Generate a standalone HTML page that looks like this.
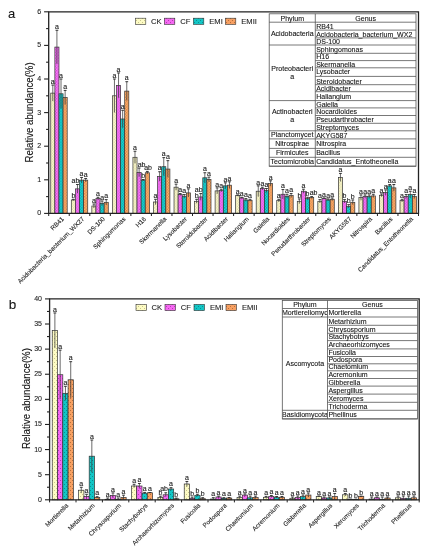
<!DOCTYPE html>
<html><head><meta charset="utf-8"><title>Relative abundance</title>
<style>
html,body{margin:0;padding:0;background:#fff;}
svg{display:block;}
text{font-family:'Liberation Sans', Arial, sans-serif;fill:#222;stroke:#222;stroke-width:0.1px;}
.sl{font-size:7px;text-anchor:middle;fill:#111;}
.yt{font-size:7px;text-anchor:end;fill:#222;}
.xl{font-size:6.4px;text-anchor:end;fill:#222;}
.lg{font-size:7.6px;fill:#1a1a1a;}
.tc{font-size:7.05px;text-anchor:middle;fill:#111;}
.tg{font-size:7px;fill:#111;}
.pl{font-size:13px;fill:#111;}
.yl{font-size:10px;text-anchor:middle;fill:#111;}
</style></head><body>
<svg width="424" height="550" viewBox="0 0 424 550">
<defs>
<pattern id="aCK" width="2.8" height="2.8" patternUnits="userSpaceOnUse"><rect width="2.8" height="2.8" fill="#fffdd6"/><rect width="1.4" height="1.4" fill="#dedaa6"/><rect x="1.4" y="1.4" width="1.4" height="1.4" fill="#dedaa6"/></pattern>
<pattern id="aCF" width="2.8" height="2.8" patternUnits="userSpaceOnUse"><rect width="2.8" height="2.8" fill="#ff7cff"/><rect width="1.4" height="1.4" fill="#d452d4"/><rect x="1.4" y="1.4" width="1.4" height="1.4" fill="#d452d4"/></pattern>
<pattern id="aEMI" width="2.8" height="2.8" patternUnits="userSpaceOnUse"><rect width="2.8" height="2.8" fill="#22dada"/><rect width="1.4" height="1.4" fill="#04a6a6"/><rect x="1.4" y="1.4" width="1.4" height="1.4" fill="#04a6a6"/></pattern>
<pattern id="aEMII" width="2.8" height="2.8" patternUnits="userSpaceOnUse"><rect width="2.8" height="2.8" fill="#ffb474"/><rect width="1.4" height="1.4" fill="#dc8646"/><rect x="1.4" y="1.4" width="1.4" height="1.4" fill="#dc8646"/></pattern>
<pattern id="pCK" width="4" height="4" patternUnits="userSpaceOnUse"><rect width="4" height="4" fill="#fdfbc4"/><rect x="0" y="0" width="1" height="1" fill="#c8c48e"/><rect x="2" y="2" width="1" height="1" fill="#c8c48e"/></pattern>
<pattern id="pCF" width="4" height="4" patternUnits="userSpaceOnUse"><rect width="4" height="4" fill="#f568f2"/><rect x="0" y="0" width="1" height="1" fill="#b53fb3"/><rect x="2" y="2" width="1" height="1" fill="#b53fb3"/></pattern>
<pattern id="pEMI" width="4" height="4" patternUnits="userSpaceOnUse"><rect width="4" height="4" fill="#12c6c6"/><rect x="0" y="0" width="1" height="1" fill="#0a8f8f"/><rect x="2" y="2" width="1" height="1" fill="#0a8f8f"/></pattern>
<pattern id="pEMII" width="4" height="4" patternUnits="userSpaceOnUse"><rect width="4" height="4" fill="#f7a062"/><rect x="0" y="0" width="1" height="1" fill="#b8703c"/><rect x="2" y="2" width="1" height="1" fill="#b8703c"/></pattern>
</defs>
<rect width="424" height="550" fill="#fff"/>
<text x="7.95" y="17.6" class="pl">a</text>
<text x="8.7" y="309.4" class="pl" style="font-size:13.5px">b</text>
<text transform="translate(33.0 112.4) rotate(-90)" class="yl" textLength="100" lengthAdjust="spacingAndGlyphs">Relative abundance(%)</text>
<text transform="translate(30.3 398.5) rotate(-90)" class="yl" textLength="101" lengthAdjust="spacingAndGlyphs">Relative abundance(%)</text>
<rect x="50.75" y="93.11" width="4.11" height="120.29" fill="url(#aCK)" stroke="#333" stroke-width="0.7"/>
<rect x="54.86" y="47.08" width="4.11" height="166.32" fill="url(#aCF)" stroke="#333" stroke-width="0.7"/>
<rect x="58.97" y="93.78" width="4.11" height="119.62" fill="url(#aEMI)" stroke="#333" stroke-width="0.7"/>
<rect x="63.08" y="97.48" width="4.11" height="115.92" fill="url(#aEMII)" stroke="#333" stroke-width="0.7"/>
<path d="M52.81 85.05V101.18" stroke="#3a3a3a" stroke-width="0.75" fill="none"/><path d="M51.41 85.05h2.8" stroke="#222" stroke-width="0.9" fill="none"/>
<text x="52.81" y="83.75" class="sl">a</text>
<path d="M56.92 30.28V63.88" stroke="#3a3a3a" stroke-width="0.75" fill="none"/><path d="M55.52 30.28h2.8" stroke="#222" stroke-width="0.9" fill="none"/>
<text x="56.92" y="28.98" class="sl">a</text>
<path d="M61.03 79.00V108.57" stroke="#3a3a3a" stroke-width="0.75" fill="none"/><path d="M59.63 79.00h2.8" stroke="#222" stroke-width="0.9" fill="none"/>
<text x="61.03" y="77.70" class="sl">a</text>
<path d="M65.14 90.42V104.54" stroke="#3a3a3a" stroke-width="0.75" fill="none"/><path d="M63.74 90.42h2.8" stroke="#222" stroke-width="0.9" fill="none"/>
<text x="65.14" y="89.12" class="sl">a</text>
<rect x="71.30" y="199.96" width="4.11" height="13.44" fill="url(#aCK)" stroke="#333" stroke-width="0.7"/>
<rect x="75.41" y="188.87" width="4.11" height="24.53" fill="url(#aCF)" stroke="#333" stroke-width="0.7"/>
<rect x="79.52" y="180.14" width="4.11" height="33.26" fill="url(#aEMI)" stroke="#333" stroke-width="0.7"/>
<rect x="83.63" y="180.14" width="4.11" height="33.26" fill="url(#aEMII)" stroke="#333" stroke-width="0.7"/>
<path d="M73.35 199.29V200.63" stroke="#3a3a3a" stroke-width="0.75" fill="none"/><path d="M71.95 199.29h2.8" stroke="#222" stroke-width="0.9" fill="none"/>
<text x="73.35" y="197.99" class="sl">b</text>
<path d="M77.46 184.50V193.24" stroke="#3a3a3a" stroke-width="0.75" fill="none"/><path d="M76.06 184.50h2.8" stroke="#222" stroke-width="0.9" fill="none"/>
<text x="75.46" y="183.20" class="sl">ab</text>
<path d="M81.57 177.45V182.82" stroke="#3a3a3a" stroke-width="0.75" fill="none"/><path d="M80.17 177.45h2.8" stroke="#222" stroke-width="0.9" fill="none"/>
<text x="81.57" y="176.15" class="sl">a</text>
<path d="M85.68 178.46V181.82" stroke="#3a3a3a" stroke-width="0.75" fill="none"/><path d="M84.28 178.46h2.8" stroke="#222" stroke-width="0.9" fill="none"/>
<text x="85.68" y="177.16" class="sl">a</text>
<rect x="91.84" y="206.01" width="4.11" height="7.39" fill="url(#aCK)" stroke="#333" stroke-width="0.7"/>
<rect x="95.95" y="198.62" width="4.11" height="14.78" fill="url(#aCF)" stroke="#333" stroke-width="0.7"/>
<rect x="100.06" y="203.32" width="4.11" height="10.08" fill="url(#aEMI)" stroke="#333" stroke-width="0.7"/>
<rect x="104.17" y="202.31" width="4.11" height="11.09" fill="url(#aEMII)" stroke="#333" stroke-width="0.7"/>
<path d="M93.90 203.99V208.02" stroke="#3a3a3a" stroke-width="0.75" fill="none"/><path d="M92.50 203.99h2.8" stroke="#222" stroke-width="0.9" fill="none"/>
<text x="93.90" y="202.69" class="sl">a</text>
<path d="M98.01 197.27V199.96" stroke="#3a3a3a" stroke-width="0.75" fill="none"/><path d="M96.61 197.27h2.8" stroke="#222" stroke-width="0.9" fill="none"/>
<text x="98.01" y="195.97" class="sl">a</text>
<path d="M102.12 200.97V205.67" stroke="#3a3a3a" stroke-width="0.75" fill="none"/><path d="M100.72 200.97h2.8" stroke="#222" stroke-width="0.9" fill="none"/>
<text x="102.12" y="199.67" class="sl">a</text>
<path d="M106.22 199.62V205.00" stroke="#3a3a3a" stroke-width="0.75" fill="none"/><path d="M104.82 199.62h2.8" stroke="#222" stroke-width="0.9" fill="none"/>
<text x="106.22" y="198.32" class="sl">a</text>
<rect x="112.39" y="95.80" width="4.11" height="117.60" fill="url(#aCK)" stroke="#333" stroke-width="0.7"/>
<rect x="116.50" y="85.38" width="4.11" height="128.02" fill="url(#aCF)" stroke="#333" stroke-width="0.7"/>
<rect x="120.61" y="118.98" width="4.11" height="94.42" fill="url(#aEMI)" stroke="#333" stroke-width="0.7"/>
<rect x="124.71" y="91.10" width="4.11" height="122.30" fill="url(#aEMII)" stroke="#333" stroke-width="0.7"/>
<path d="M114.44 79.00V112.60" stroke="#3a3a3a" stroke-width="0.75" fill="none"/><path d="M113.04 79.00h2.8" stroke="#222" stroke-width="0.9" fill="none"/>
<text x="114.44" y="77.70" class="sl">a</text>
<path d="M118.55 72.95V97.82" stroke="#3a3a3a" stroke-width="0.75" fill="none"/><path d="M117.15 72.95h2.8" stroke="#222" stroke-width="0.9" fill="none"/>
<text x="118.55" y="71.65" class="sl">a</text>
<path d="M122.66 110.25V127.72" stroke="#3a3a3a" stroke-width="0.75" fill="none"/><path d="M121.26 110.25h2.8" stroke="#222" stroke-width="0.9" fill="none"/>
<text x="122.66" y="108.95" class="sl">a</text>
<path d="M126.77 81.69V100.50" stroke="#3a3a3a" stroke-width="0.75" fill="none"/><path d="M125.37 81.69h2.8" stroke="#222" stroke-width="0.9" fill="none"/>
<text x="126.77" y="80.39" class="sl">a</text>
<rect x="132.93" y="157.29" width="4.11" height="56.11" fill="url(#aCK)" stroke="#333" stroke-width="0.7"/>
<rect x="137.04" y="172.41" width="4.11" height="40.99" fill="url(#aCF)" stroke="#333" stroke-width="0.7"/>
<rect x="141.15" y="180.14" width="4.11" height="33.26" fill="url(#aEMI)" stroke="#333" stroke-width="0.7"/>
<rect x="145.26" y="172.74" width="4.11" height="40.66" fill="url(#aEMII)" stroke="#333" stroke-width="0.7"/>
<path d="M134.99 151.24V163.34" stroke="#3a3a3a" stroke-width="0.75" fill="none"/><path d="M133.59 151.24h2.8" stroke="#222" stroke-width="0.9" fill="none"/>
<text x="134.99" y="149.94" class="sl">a</text>
<path d="M139.10 168.04V176.78" stroke="#3a3a3a" stroke-width="0.75" fill="none"/><path d="M137.70 168.04h2.8" stroke="#222" stroke-width="0.9" fill="none"/>
<text x="141.60" y="166.74" class="sl">ab</text>
<path d="M143.20 179.46V180.81" stroke="#3a3a3a" stroke-width="0.75" fill="none"/><path d="M141.80 179.46h2.8" stroke="#222" stroke-width="0.9" fill="none"/>
<text x="143.20" y="178.16" class="sl">b</text>
<path d="M147.31 171.40V174.09" stroke="#3a3a3a" stroke-width="0.75" fill="none"/><path d="M145.91 171.40h2.8" stroke="#222" stroke-width="0.9" fill="none"/>
<text x="148.11" y="170.10" class="sl">ab</text>
<rect x="153.48" y="201.98" width="4.11" height="11.42" fill="url(#aCK)" stroke="#333" stroke-width="0.7"/>
<rect x="157.59" y="176.44" width="4.11" height="36.96" fill="url(#aCF)" stroke="#333" stroke-width="0.7"/>
<rect x="161.69" y="166.70" width="4.11" height="46.70" fill="url(#aEMI)" stroke="#333" stroke-width="0.7"/>
<rect x="165.80" y="169.05" width="4.11" height="44.35" fill="url(#aEMII)" stroke="#333" stroke-width="0.7"/>
<path d="M155.53 199.29V204.66" stroke="#3a3a3a" stroke-width="0.75" fill="none"/><path d="M154.13 199.29h2.8" stroke="#222" stroke-width="0.9" fill="none"/>
<text x="155.53" y="197.99" class="sl">a</text>
<path d="M159.64 171.74V181.14" stroke="#3a3a3a" stroke-width="0.75" fill="none"/><path d="M158.24 171.74h2.8" stroke="#222" stroke-width="0.9" fill="none"/>
<text x="159.64" y="170.44" class="sl">a</text>
<path d="M163.75 157.62V175.77" stroke="#3a3a3a" stroke-width="0.75" fill="none"/><path d="M162.35 157.62h2.8" stroke="#222" stroke-width="0.9" fill="none"/>
<text x="163.75" y="156.32" class="sl">a</text>
<path d="M167.86 160.65V177.45" stroke="#3a3a3a" stroke-width="0.75" fill="none"/><path d="M166.46 160.65h2.8" stroke="#222" stroke-width="0.9" fill="none"/>
<text x="167.86" y="159.35" class="sl">a</text>
<rect x="174.02" y="187.19" width="4.11" height="26.21" fill="url(#aCK)" stroke="#333" stroke-width="0.7"/>
<rect x="178.13" y="194.58" width="4.11" height="18.82" fill="url(#aCF)" stroke="#333" stroke-width="0.7"/>
<rect x="182.24" y="196.26" width="4.11" height="17.14" fill="url(#aEMI)" stroke="#333" stroke-width="0.7"/>
<rect x="186.35" y="192.90" width="4.11" height="20.50" fill="url(#aEMII)" stroke="#333" stroke-width="0.7"/>
<path d="M176.08 184.17V190.22" stroke="#3a3a3a" stroke-width="0.75" fill="none"/><path d="M174.68 184.17h2.8" stroke="#222" stroke-width="0.9" fill="none"/>
<text x="176.08" y="182.87" class="sl">a</text>
<path d="M180.18 193.58V195.59" stroke="#3a3a3a" stroke-width="0.75" fill="none"/><path d="M178.78 193.58h2.8" stroke="#222" stroke-width="0.9" fill="none"/>
<text x="180.18" y="192.28" class="sl">a</text>
<path d="M184.29 194.58V197.94" stroke="#3a3a3a" stroke-width="0.75" fill="none"/><path d="M182.89 194.58h2.8" stroke="#222" stroke-width="0.9" fill="none"/>
<text x="184.29" y="193.28" class="sl">a</text>
<path d="M188.40 188.87V196.94" stroke="#3a3a3a" stroke-width="0.75" fill="none"/><path d="M187.00 188.87h2.8" stroke="#222" stroke-width="0.9" fill="none"/>
<text x="188.40" y="187.57" class="sl">a</text>
<rect x="194.57" y="201.30" width="4.11" height="12.10" fill="url(#aCK)" stroke="#333" stroke-width="0.7"/>
<rect x="198.67" y="196.94" width="4.11" height="16.46" fill="url(#aCF)" stroke="#333" stroke-width="0.7"/>
<rect x="202.78" y="177.78" width="4.11" height="35.62" fill="url(#aEMI)" stroke="#333" stroke-width="0.7"/>
<rect x="206.89" y="179.46" width="4.11" height="33.94" fill="url(#aEMII)" stroke="#333" stroke-width="0.7"/>
<path d="M196.62 199.29V203.32" stroke="#3a3a3a" stroke-width="0.75" fill="none"/><path d="M195.22 199.29h2.8" stroke="#222" stroke-width="0.9" fill="none"/>
<text x="196.62" y="197.99" class="sl">b</text>
<path d="M200.73 193.58V200.30" stroke="#3a3a3a" stroke-width="0.75" fill="none"/><path d="M199.33 193.58h2.8" stroke="#222" stroke-width="0.9" fill="none"/>
<text x="198.73" y="192.28" class="sl">ab</text>
<path d="M204.84 172.74V182.82" stroke="#3a3a3a" stroke-width="0.75" fill="none"/><path d="M203.44 172.74h2.8" stroke="#222" stroke-width="0.9" fill="none"/>
<text x="204.84" y="171.44" class="sl">a</text>
<path d="M208.95 177.11V181.82" stroke="#3a3a3a" stroke-width="0.75" fill="none"/><path d="M207.55 177.11h2.8" stroke="#222" stroke-width="0.9" fill="none"/>
<text x="208.95" y="175.81" class="sl">a</text>
<rect x="215.11" y="190.89" width="4.11" height="22.51" fill="url(#aCK)" stroke="#333" stroke-width="0.7"/>
<rect x="219.22" y="190.55" width="4.11" height="22.85" fill="url(#aCF)" stroke="#333" stroke-width="0.7"/>
<rect x="223.33" y="185.85" width="4.11" height="27.55" fill="url(#aEMI)" stroke="#333" stroke-width="0.7"/>
<rect x="227.44" y="185.18" width="4.11" height="28.22" fill="url(#aEMII)" stroke="#333" stroke-width="0.7"/>
<path d="M217.16 187.86V193.91" stroke="#3a3a3a" stroke-width="0.75" fill="none"/><path d="M215.76 187.86h2.8" stroke="#222" stroke-width="0.9" fill="none"/>
<text x="217.16" y="186.56" class="sl">a</text>
<path d="M221.27 189.21V191.90" stroke="#3a3a3a" stroke-width="0.75" fill="none"/><path d="M219.87 189.21h2.8" stroke="#222" stroke-width="0.9" fill="none"/>
<text x="221.27" y="187.91" class="sl">a</text>
<path d="M225.38 182.82V188.87" stroke="#3a3a3a" stroke-width="0.75" fill="none"/><path d="M223.98 182.82h2.8" stroke="#222" stroke-width="0.9" fill="none"/>
<text x="225.38" y="181.52" class="sl">a</text>
<path d="M229.49 181.82V188.54" stroke="#3a3a3a" stroke-width="0.75" fill="none"/><path d="M228.09 181.82h2.8" stroke="#222" stroke-width="0.9" fill="none"/>
<text x="229.49" y="180.52" class="sl">a</text>
<rect x="235.65" y="195.59" width="4.11" height="17.81" fill="url(#aCK)" stroke="#333" stroke-width="0.7"/>
<rect x="239.76" y="197.94" width="4.11" height="15.46" fill="url(#aCF)" stroke="#333" stroke-width="0.7"/>
<rect x="243.87" y="199.96" width="4.11" height="13.44" fill="url(#aEMI)" stroke="#333" stroke-width="0.7"/>
<rect x="247.98" y="200.30" width="4.11" height="13.10" fill="url(#aEMII)" stroke="#333" stroke-width="0.7"/>
<path d="M237.71 194.92V196.26" stroke="#3a3a3a" stroke-width="0.75" fill="none"/><path d="M236.31 194.92h2.8" stroke="#222" stroke-width="0.9" fill="none"/>
<text x="237.71" y="193.62" class="sl">a</text>
<path d="M241.82 197.27V198.62" stroke="#3a3a3a" stroke-width="0.75" fill="none"/><path d="M240.42 197.27h2.8" stroke="#222" stroke-width="0.9" fill="none"/>
<text x="241.82" y="195.97" class="sl">a</text>
<path d="M245.93 198.62V201.30" stroke="#3a3a3a" stroke-width="0.75" fill="none"/><path d="M244.53 198.62h2.8" stroke="#222" stroke-width="0.9" fill="none"/>
<text x="245.93" y="197.32" class="sl">a</text>
<path d="M250.04 199.29V201.30" stroke="#3a3a3a" stroke-width="0.75" fill="none"/><path d="M248.64 199.29h2.8" stroke="#222" stroke-width="0.9" fill="none"/>
<text x="250.04" y="197.99" class="sl">a</text>
<rect x="256.20" y="191.22" width="4.11" height="22.18" fill="url(#aCK)" stroke="#333" stroke-width="0.7"/>
<rect x="260.31" y="188.54" width="4.11" height="24.86" fill="url(#aCF)" stroke="#333" stroke-width="0.7"/>
<rect x="264.42" y="190.55" width="4.11" height="22.85" fill="url(#aEMI)" stroke="#333" stroke-width="0.7"/>
<rect x="268.53" y="183.50" width="4.11" height="29.90" fill="url(#aEMII)" stroke="#333" stroke-width="0.7"/>
<path d="M258.25 185.85V196.60" stroke="#3a3a3a" stroke-width="0.75" fill="none"/><path d="M256.85 185.85h2.8" stroke="#222" stroke-width="0.9" fill="none"/>
<text x="258.25" y="184.55" class="sl">a</text>
<path d="M262.36 187.19V189.88" stroke="#3a3a3a" stroke-width="0.75" fill="none"/><path d="M260.96 187.19h2.8" stroke="#222" stroke-width="0.9" fill="none"/>
<text x="262.36" y="185.89" class="sl">a</text>
<path d="M266.47 188.54V192.57" stroke="#3a3a3a" stroke-width="0.75" fill="none"/><path d="M265.07 188.54h2.8" stroke="#222" stroke-width="0.9" fill="none"/>
<text x="266.47" y="187.24" class="sl">a</text>
<path d="M270.58 180.81V186.18" stroke="#3a3a3a" stroke-width="0.75" fill="none"/><path d="M269.18 180.81h2.8" stroke="#222" stroke-width="0.9" fill="none"/>
<text x="270.58" y="179.51" class="sl">a</text>
<rect x="276.74" y="200.63" width="4.11" height="12.77" fill="url(#aCK)" stroke="#333" stroke-width="0.7"/>
<rect x="280.85" y="194.25" width="4.11" height="19.15" fill="url(#aCF)" stroke="#333" stroke-width="0.7"/>
<rect x="284.96" y="196.26" width="4.11" height="17.14" fill="url(#aEMI)" stroke="#333" stroke-width="0.7"/>
<rect x="289.07" y="195.59" width="4.11" height="17.81" fill="url(#aEMII)" stroke="#333" stroke-width="0.7"/>
<path d="M278.80 199.29V201.98" stroke="#3a3a3a" stroke-width="0.75" fill="none"/><path d="M277.40 199.29h2.8" stroke="#222" stroke-width="0.9" fill="none"/>
<text x="278.80" y="197.99" class="sl">a</text>
<path d="M282.91 189.54V198.95" stroke="#3a3a3a" stroke-width="0.75" fill="none"/><path d="M281.51 189.54h2.8" stroke="#222" stroke-width="0.9" fill="none"/>
<text x="282.91" y="188.24" class="sl">a</text>
<path d="M287.02 194.25V198.28" stroke="#3a3a3a" stroke-width="0.75" fill="none"/><path d="M285.62 194.25h2.8" stroke="#222" stroke-width="0.9" fill="none"/>
<text x="287.02" y="192.95" class="sl">a</text>
<path d="M291.12 193.58V197.61" stroke="#3a3a3a" stroke-width="0.75" fill="none"/><path d="M289.72 193.58h2.8" stroke="#222" stroke-width="0.9" fill="none"/>
<text x="291.12" y="192.28" class="sl">a</text>
<rect x="297.29" y="201.30" width="4.11" height="12.10" fill="url(#aCK)" stroke="#333" stroke-width="0.7"/>
<rect x="301.40" y="191.22" width="4.11" height="22.18" fill="url(#aCF)" stroke="#333" stroke-width="0.7"/>
<rect x="305.51" y="198.62" width="4.11" height="14.78" fill="url(#aEMI)" stroke="#333" stroke-width="0.7"/>
<rect x="309.61" y="197.61" width="4.11" height="15.79" fill="url(#aEMII)" stroke="#333" stroke-width="0.7"/>
<path d="M299.34 198.95V203.66" stroke="#3a3a3a" stroke-width="0.75" fill="none"/><path d="M297.94 198.95h2.8" stroke="#222" stroke-width="0.9" fill="none"/>
<text x="299.34" y="197.65" class="sl">b</text>
<path d="M303.45 189.21V193.24" stroke="#3a3a3a" stroke-width="0.75" fill="none"/><path d="M302.05 189.21h2.8" stroke="#222" stroke-width="0.9" fill="none"/>
<text x="303.45" y="187.91" class="sl">a</text>
<path d="M307.56 197.27V199.96" stroke="#3a3a3a" stroke-width="0.75" fill="none"/><path d="M306.16 197.27h2.8" stroke="#222" stroke-width="0.9" fill="none"/>
<text x="307.56" y="195.97" class="sl">b</text>
<path d="M311.67 196.60V198.62" stroke="#3a3a3a" stroke-width="0.75" fill="none"/><path d="M310.27 196.60h2.8" stroke="#222" stroke-width="0.9" fill="none"/>
<text x="313.57" y="195.30" class="sl">ab</text>
<rect x="317.83" y="201.30" width="4.11" height="12.10" fill="url(#aCK)" stroke="#333" stroke-width="0.7"/>
<rect x="321.94" y="198.62" width="4.11" height="14.78" fill="url(#aCF)" stroke="#333" stroke-width="0.7"/>
<rect x="326.05" y="199.96" width="4.11" height="13.44" fill="url(#aEMI)" stroke="#333" stroke-width="0.7"/>
<rect x="330.16" y="199.29" width="4.11" height="14.11" fill="url(#aEMII)" stroke="#333" stroke-width="0.7"/>
<path d="M319.89 199.62V202.98" stroke="#3a3a3a" stroke-width="0.75" fill="none"/><path d="M318.49 199.62h2.8" stroke="#222" stroke-width="0.9" fill="none"/>
<text x="319.89" y="198.32" class="sl">a</text>
<path d="M324.00 197.94V199.29" stroke="#3a3a3a" stroke-width="0.75" fill="none"/><path d="M322.60 197.94h2.8" stroke="#222" stroke-width="0.9" fill="none"/>
<text x="324.00" y="196.64" class="sl">a</text>
<path d="M328.10 198.95V200.97" stroke="#3a3a3a" stroke-width="0.75" fill="none"/><path d="M326.70 198.95h2.8" stroke="#222" stroke-width="0.9" fill="none"/>
<text x="328.10" y="197.65" class="sl">a</text>
<path d="M332.21 197.94V200.63" stroke="#3a3a3a" stroke-width="0.75" fill="none"/><path d="M330.81 197.94h2.8" stroke="#222" stroke-width="0.9" fill="none"/>
<text x="332.21" y="196.64" class="sl">a</text>
<rect x="338.38" y="177.45" width="4.11" height="35.95" fill="url(#aCK)" stroke="#333" stroke-width="0.7"/>
<rect x="342.49" y="201.30" width="4.11" height="12.10" fill="url(#aCF)" stroke="#333" stroke-width="0.7"/>
<rect x="346.59" y="206.34" width="4.11" height="7.06" fill="url(#aEMI)" stroke="#333" stroke-width="0.7"/>
<rect x="350.70" y="202.31" width="4.11" height="11.09" fill="url(#aEMII)" stroke="#333" stroke-width="0.7"/>
<path d="M340.43 173.42V181.48" stroke="#3a3a3a" stroke-width="0.75" fill="none"/><path d="M339.03 173.42h2.8" stroke="#222" stroke-width="0.9" fill="none"/>
<text x="340.43" y="172.12" class="sl">a</text>
<path d="M344.54 199.62V202.98" stroke="#3a3a3a" stroke-width="0.75" fill="none"/><path d="M343.14 199.62h2.8" stroke="#222" stroke-width="0.9" fill="none"/>
<text x="344.54" y="198.32" class="sl">b</text>
<path d="M348.65 204.66V208.02" stroke="#3a3a3a" stroke-width="0.75" fill="none"/><path d="M347.25 204.66h2.8" stroke="#222" stroke-width="0.9" fill="none"/>
<text x="348.65" y="203.36" class="sl">b</text>
<path d="M352.76 199.96V204.66" stroke="#3a3a3a" stroke-width="0.75" fill="none"/><path d="M351.36 199.96h2.8" stroke="#222" stroke-width="0.9" fill="none"/>
<text x="352.76" y="198.66" class="sl">b</text>
<rect x="358.92" y="197.61" width="4.11" height="15.79" fill="url(#aCK)" stroke="#333" stroke-width="0.7"/>
<rect x="363.03" y="196.60" width="4.11" height="16.80" fill="url(#aCF)" stroke="#333" stroke-width="0.7"/>
<rect x="367.14" y="196.60" width="4.11" height="16.80" fill="url(#aEMI)" stroke="#333" stroke-width="0.7"/>
<rect x="371.25" y="195.93" width="4.11" height="17.47" fill="url(#aEMII)" stroke="#333" stroke-width="0.7"/>
<path d="M360.98 194.92V200.30" stroke="#3a3a3a" stroke-width="0.75" fill="none"/><path d="M359.58 194.92h2.8" stroke="#222" stroke-width="0.9" fill="none"/>
<text x="360.98" y="193.62" class="sl">a</text>
<path d="M365.08 194.92V198.28" stroke="#3a3a3a" stroke-width="0.75" fill="none"/><path d="M363.68 194.92h2.8" stroke="#222" stroke-width="0.9" fill="none"/>
<text x="365.08" y="193.62" class="sl">a</text>
<path d="M369.19 194.92V198.28" stroke="#3a3a3a" stroke-width="0.75" fill="none"/><path d="M367.79 194.92h2.8" stroke="#222" stroke-width="0.9" fill="none"/>
<text x="369.19" y="193.62" class="sl">a</text>
<path d="M373.30 194.25V197.61" stroke="#3a3a3a" stroke-width="0.75" fill="none"/><path d="M371.90 194.25h2.8" stroke="#222" stroke-width="0.9" fill="none"/>
<text x="373.30" y="192.95" class="sl">a</text>
<rect x="379.47" y="195.26" width="4.11" height="18.14" fill="url(#aCK)" stroke="#333" stroke-width="0.7"/>
<rect x="383.57" y="192.57" width="4.11" height="20.83" fill="url(#aCF)" stroke="#333" stroke-width="0.7"/>
<rect x="387.68" y="185.85" width="4.11" height="27.55" fill="url(#aEMI)" stroke="#333" stroke-width="0.7"/>
<rect x="391.79" y="187.86" width="4.11" height="25.54" fill="url(#aEMII)" stroke="#333" stroke-width="0.7"/>
<path d="M381.52 193.91V196.60" stroke="#3a3a3a" stroke-width="0.75" fill="none"/><path d="M380.12 193.91h2.8" stroke="#222" stroke-width="0.9" fill="none"/>
<text x="381.52" y="192.61" class="sl">a</text>
<path d="M385.63 189.88V195.26" stroke="#3a3a3a" stroke-width="0.75" fill="none"/><path d="M384.23 189.88h2.8" stroke="#222" stroke-width="0.9" fill="none"/>
<text x="385.63" y="188.58" class="sl">a</text>
<path d="M389.74 184.50V187.19" stroke="#3a3a3a" stroke-width="0.75" fill="none"/><path d="M388.34 184.50h2.8" stroke="#222" stroke-width="0.9" fill="none"/>
<text x="389.74" y="183.20" class="sl">a</text>
<path d="M393.85 184.50V191.22" stroke="#3a3a3a" stroke-width="0.75" fill="none"/><path d="M392.45 184.50h2.8" stroke="#222" stroke-width="0.9" fill="none"/>
<text x="393.85" y="183.20" class="sl">a</text>
<rect x="400.01" y="200.63" width="4.11" height="12.77" fill="url(#aCK)" stroke="#333" stroke-width="0.7"/>
<rect x="404.12" y="196.60" width="4.11" height="16.80" fill="url(#aCF)" stroke="#333" stroke-width="0.7"/>
<rect x="408.23" y="194.58" width="4.11" height="18.82" fill="url(#aEMI)" stroke="#333" stroke-width="0.7"/>
<rect x="412.34" y="196.60" width="4.11" height="16.80" fill="url(#aEMII)" stroke="#333" stroke-width="0.7"/>
<path d="M402.06 199.29V201.98" stroke="#3a3a3a" stroke-width="0.75" fill="none"/><path d="M400.66 199.29h2.8" stroke="#222" stroke-width="0.9" fill="none"/>
<text x="402.06" y="197.99" class="sl">a</text>
<path d="M406.17 194.58V198.62" stroke="#3a3a3a" stroke-width="0.75" fill="none"/><path d="M404.77 194.58h2.8" stroke="#222" stroke-width="0.9" fill="none"/>
<text x="406.17" y="193.28" class="sl">a</text>
<path d="M410.28 191.22V197.94" stroke="#3a3a3a" stroke-width="0.75" fill="none"/><path d="M408.88 191.22h2.8" stroke="#222" stroke-width="0.9" fill="none"/>
<text x="410.28" y="189.92" class="sl">a</text>
<path d="M414.39 194.58V198.62" stroke="#3a3a3a" stroke-width="0.75" fill="none"/><path d="M412.99 194.58h2.8" stroke="#222" stroke-width="0.9" fill="none"/>
<text x="414.39" y="193.28" class="sl">a</text>
<path d="M48.70 11.80H418.50V213.40H48.70Z" fill="none" stroke="#222" stroke-width="1.3"/>
<path d="M44.10 213.40H48.7" stroke="#222" stroke-width="1.1"/>
<text x="41.10" y="215.40" class="yt">0</text>
<path d="M44.10 179.80H48.7" stroke="#222" stroke-width="1.1"/>
<text x="41.10" y="181.80" class="yt">1</text>
<path d="M44.10 146.20H48.7" stroke="#222" stroke-width="1.1"/>
<text x="41.10" y="148.20" class="yt">2</text>
<path d="M44.10 112.60H48.7" stroke="#222" stroke-width="1.1"/>
<text x="41.10" y="114.60" class="yt">3</text>
<path d="M44.10 79.00H48.7" stroke="#222" stroke-width="1.1"/>
<text x="41.10" y="81.00" class="yt">4</text>
<path d="M44.10 45.40H48.7" stroke="#222" stroke-width="1.1"/>
<text x="41.10" y="47.40" class="yt">5</text>
<path d="M44.10 11.80H48.7" stroke="#222" stroke-width="1.1"/>
<text x="41.10" y="13.80" class="yt">6</text>
<path d="M46.10 196.60H48.7" stroke="#222" stroke-width="1.1"/>
<path d="M46.10 163.00H48.7" stroke="#222" stroke-width="1.1"/>
<path d="M46.10 129.40H48.7" stroke="#222" stroke-width="1.1"/>
<path d="M46.10 95.80H48.7" stroke="#222" stroke-width="1.1"/>
<path d="M46.10 62.20H48.7" stroke="#222" stroke-width="1.1"/>
<path d="M46.10 28.60H48.7" stroke="#222" stroke-width="1.1"/>
<path d="M48.70 213.40V216.00" stroke="#222" stroke-width="1"/>
<path d="M69.24 213.40V216.00" stroke="#222" stroke-width="1"/>
<path d="M89.79 213.40V216.00" stroke="#222" stroke-width="1"/>
<path d="M110.33 213.40V216.00" stroke="#222" stroke-width="1"/>
<path d="M130.88 213.40V216.00" stroke="#222" stroke-width="1"/>
<path d="M151.42 213.40V216.00" stroke="#222" stroke-width="1"/>
<path d="M171.97 213.40V216.00" stroke="#222" stroke-width="1"/>
<path d="M192.51 213.40V216.00" stroke="#222" stroke-width="1"/>
<path d="M213.06 213.40V216.00" stroke="#222" stroke-width="1"/>
<path d="M233.60 213.40V216.00" stroke="#222" stroke-width="1"/>
<path d="M254.14 213.40V216.00" stroke="#222" stroke-width="1"/>
<path d="M274.69 213.40V216.00" stroke="#222" stroke-width="1"/>
<path d="M295.23 213.40V216.00" stroke="#222" stroke-width="1"/>
<path d="M315.78 213.40V216.00" stroke="#222" stroke-width="1"/>
<path d="M336.32 213.40V216.00" stroke="#222" stroke-width="1"/>
<path d="M356.87 213.40V216.00" stroke="#222" stroke-width="1"/>
<path d="M377.41 213.40V216.00" stroke="#222" stroke-width="1"/>
<path d="M397.96 213.40V216.00" stroke="#222" stroke-width="1"/>
<path d="M418.50 213.40V216.00" stroke="#222" stroke-width="1"/>
<text transform="translate(64.27 219.40) rotate(-45)" class="xl">RB41</text>
<text transform="translate(84.82 219.40) rotate(-45)" class="xl">Acidobacteria_bacterium_WX27</text>
<text transform="translate(105.36 219.40) rotate(-45)" class="xl">DS-100</text>
<text transform="translate(125.91 219.40) rotate(-45)" class="xl">Sphingomonas</text>
<text transform="translate(146.45 219.40) rotate(-45)" class="xl">H16</text>
<text transform="translate(166.99 219.40) rotate(-45)" class="xl">Skermanella</text>
<text transform="translate(187.54 219.40) rotate(-45)" class="xl">Lysobacter</text>
<text transform="translate(208.08 219.40) rotate(-45)" class="xl">Steroidobacter</text>
<text transform="translate(228.63 219.40) rotate(-45)" class="xl">Acidibacter</text>
<text transform="translate(249.17 219.40) rotate(-45)" class="xl">Haliangium</text>
<text transform="translate(269.72 219.40) rotate(-45)" class="xl">Gaiella</text>
<text transform="translate(290.26 219.40) rotate(-45)" class="xl">Nocardioides</text>
<text transform="translate(310.81 219.40) rotate(-45)" class="xl">Pseudarthrobacter</text>
<text transform="translate(331.35 219.40) rotate(-45)" class="xl">Streptomyces</text>
<text transform="translate(351.89 219.40) rotate(-45)" class="xl">AKYG587</text>
<text transform="translate(372.44 219.40) rotate(-45)" class="xl">Nitrospira</text>
<text transform="translate(392.98 219.40) rotate(-45)" class="xl">Bacillus</text>
<text transform="translate(413.53 219.40) rotate(-45)" class="xl">Candidatus_Entotheonella</text>
<rect x="52.24" y="330.54" width="5.28" height="169.26" fill="url(#pCK)" stroke="#333" stroke-width="0.7"/>
<rect x="57.52" y="374.74" width="5.28" height="125.06" fill="url(#pCF)" stroke="#333" stroke-width="0.7"/>
<rect x="62.80" y="393.32" width="5.28" height="106.48" fill="url(#pEMI)" stroke="#333" stroke-width="0.7"/>
<rect x="68.08" y="379.76" width="5.28" height="120.04" fill="url(#pEMII)" stroke="#333" stroke-width="0.7"/>
<path d="M54.88 312.96V348.12" stroke="#3a3a3a" stroke-width="0.75" fill="none"/><path d="M53.48 312.96h2.8" stroke="#222" stroke-width="0.9" fill="none"/>
<text x="54.88" y="311.66" class="sl">a</text>
<path d="M60.16 350.13V399.35" stroke="#3a3a3a" stroke-width="0.75" fill="none"/><path d="M58.76 350.13h2.8" stroke="#222" stroke-width="0.9" fill="none"/>
<text x="60.16" y="348.83" class="sl">a</text>
<path d="M65.44 386.29V400.35" stroke="#3a3a3a" stroke-width="0.75" fill="none"/><path d="M64.04 386.29h2.8" stroke="#222" stroke-width="0.9" fill="none"/>
<text x="65.44" y="384.99" class="sl">a</text>
<path d="M70.72 361.68V397.84" stroke="#3a3a3a" stroke-width="0.75" fill="none"/><path d="M69.32 361.68h2.8" stroke="#222" stroke-width="0.9" fill="none"/>
<text x="70.72" y="360.38" class="sl">a</text>
<rect x="78.64" y="490.21" width="5.28" height="9.59" fill="url(#pCK)" stroke="#333" stroke-width="0.7"/>
<rect x="83.92" y="496.38" width="5.28" height="3.42" fill="url(#pCF)" stroke="#333" stroke-width="0.7"/>
<rect x="89.20" y="456.20" width="5.28" height="43.60" fill="url(#pEMI)" stroke="#333" stroke-width="0.7"/>
<rect x="94.48" y="497.39" width="5.28" height="2.41" fill="url(#pEMII)" stroke="#333" stroke-width="0.7"/>
<path d="M81.28 487.29V493.12" stroke="#3a3a3a" stroke-width="0.75" fill="none"/><path d="M79.88 487.29h2.8" stroke="#222" stroke-width="0.9" fill="none"/>
<text x="81.28" y="485.99" class="sl">a</text>
<path d="M86.56 494.28V498.49" stroke="#3a3a3a" stroke-width="0.75" fill="none"/><path d="M85.16 494.28h2.8" stroke="#222" stroke-width="0.9" fill="none"/>
<text x="86.56" y="492.98" class="sl">a</text>
<path d="M91.84 440.03V472.38" stroke="#3a3a3a" stroke-width="0.75" fill="none"/><path d="M90.44 440.03h2.8" stroke="#222" stroke-width="0.9" fill="none"/>
<text x="91.84" y="438.73" class="sl">a</text>
<path d="M97.12 496.69V498.09" stroke="#3a3a3a" stroke-width="0.75" fill="none"/><path d="M95.72 496.69h2.8" stroke="#222" stroke-width="0.9" fill="none"/>
<text x="97.12" y="495.39" class="sl">a</text>
<rect x="105.04" y="499.30" width="5.28" height="0.50" fill="url(#pCK)" stroke="#333" stroke-width="0.7"/>
<rect x="110.32" y="495.48" width="5.28" height="4.32" fill="url(#pCF)" stroke="#333" stroke-width="0.7"/>
<rect x="115.60" y="499.30" width="5.28" height="0.50" fill="url(#pEMI)" stroke="#333" stroke-width="0.7"/>
<rect x="120.88" y="497.39" width="5.28" height="2.41" fill="url(#pEMII)" stroke="#333" stroke-width="0.7"/>
<path d="M107.68 497.99V499.80" stroke="#3a3a3a" stroke-width="0.75" fill="none"/><path d="M106.28 497.99h2.8" stroke="#222" stroke-width="0.9" fill="none"/>
<text x="107.68" y="496.69" class="sl">a</text>
<path d="M112.96 492.92V498.04" stroke="#3a3a3a" stroke-width="0.75" fill="none"/><path d="M111.56 492.92h2.8" stroke="#222" stroke-width="0.9" fill="none"/>
<text x="112.96" y="491.62" class="sl">a</text>
<path d="M118.24 497.99V499.80" stroke="#3a3a3a" stroke-width="0.75" fill="none"/><path d="M116.84 497.99h2.8" stroke="#222" stroke-width="0.9" fill="none"/>
<text x="118.24" y="496.69" class="sl">a</text>
<path d="M123.52 495.18V499.60" stroke="#3a3a3a" stroke-width="0.75" fill="none"/><path d="M122.12 495.18h2.8" stroke="#222" stroke-width="0.9" fill="none"/>
<text x="123.52" y="493.88" class="sl">a</text>
<rect x="131.44" y="485.99" width="5.28" height="13.81" fill="url(#pCK)" stroke="#333" stroke-width="0.7"/>
<rect x="136.72" y="485.99" width="5.28" height="13.81" fill="url(#pCF)" stroke="#333" stroke-width="0.7"/>
<rect x="142.00" y="493.22" width="5.28" height="6.58" fill="url(#pEMI)" stroke="#333" stroke-width="0.7"/>
<rect x="147.28" y="492.77" width="5.28" height="7.03" fill="url(#pEMII)" stroke="#333" stroke-width="0.7"/>
<path d="M134.08 484.28V487.70" stroke="#3a3a3a" stroke-width="0.75" fill="none"/><path d="M132.68 484.28h2.8" stroke="#222" stroke-width="0.9" fill="none"/>
<text x="134.08" y="482.98" class="sl">a</text>
<path d="M139.36 483.48V488.50" stroke="#3a3a3a" stroke-width="0.75" fill="none"/><path d="M137.96 483.48h2.8" stroke="#222" stroke-width="0.9" fill="none"/>
<text x="139.36" y="482.18" class="sl">a</text>
<path d="M144.64 492.42V494.02" stroke="#3a3a3a" stroke-width="0.75" fill="none"/><path d="M143.24 492.42h2.8" stroke="#222" stroke-width="0.9" fill="none"/>
<text x="144.64" y="491.12" class="sl">a</text>
<path d="M149.92 492.52V493.02" stroke="#3a3a3a" stroke-width="0.75" fill="none"/><path d="M148.52 492.52h2.8" stroke="#222" stroke-width="0.9" fill="none"/>
<text x="149.92" y="491.22" class="sl">a</text>
<rect x="157.84" y="497.54" width="5.28" height="2.26" fill="url(#pCK)" stroke="#333" stroke-width="0.7"/>
<rect x="163.12" y="494.78" width="5.28" height="5.02" fill="url(#pCF)" stroke="#333" stroke-width="0.7"/>
<rect x="168.40" y="489.00" width="5.28" height="10.80" fill="url(#pEMI)" stroke="#333" stroke-width="0.7"/>
<rect x="173.68" y="498.80" width="5.28" height="1.00" fill="url(#pEMII)" stroke="#333" stroke-width="0.7"/>
<path d="M160.48 496.18V498.90" stroke="#3a3a3a" stroke-width="0.75" fill="none"/><path d="M159.08 496.18h2.8" stroke="#222" stroke-width="0.9" fill="none"/>
<text x="160.48" y="494.88" class="sl">b</text>
<path d="M165.76 492.77V496.79" stroke="#3a3a3a" stroke-width="0.75" fill="none"/><path d="M164.36 492.77h2.8" stroke="#222" stroke-width="0.9" fill="none"/>
<text x="164.06" y="491.47" class="sl">ab</text>
<path d="M171.04 487.70V490.31" stroke="#3a3a3a" stroke-width="0.75" fill="none"/><path d="M169.64 487.70h2.8" stroke="#222" stroke-width="0.9" fill="none"/>
<text x="171.04" y="486.40" class="sl">a</text>
<path d="M176.32 498.09V499.50" stroke="#3a3a3a" stroke-width="0.75" fill="none"/><path d="M174.92 498.09h2.8" stroke="#222" stroke-width="0.9" fill="none"/>
<text x="176.32" y="496.79" class="sl">b</text>
<rect x="184.24" y="483.98" width="5.28" height="15.82" fill="url(#pCK)" stroke="#333" stroke-width="0.7"/>
<rect x="189.52" y="498.29" width="5.28" height="1.51" fill="url(#pCF)" stroke="#333" stroke-width="0.7"/>
<rect x="194.80" y="495.28" width="5.28" height="4.52" fill="url(#pEMI)" stroke="#333" stroke-width="0.7"/>
<rect x="200.08" y="498.70" width="5.28" height="1.10" fill="url(#pEMII)" stroke="#333" stroke-width="0.7"/>
<path d="M186.88 481.47V486.49" stroke="#3a3a3a" stroke-width="0.75" fill="none"/><path d="M185.48 481.47h2.8" stroke="#222" stroke-width="0.9" fill="none"/>
<text x="186.88" y="480.17" class="sl">a</text>
<path d="M192.16 497.09V499.50" stroke="#3a3a3a" stroke-width="0.75" fill="none"/><path d="M190.76 497.09h2.8" stroke="#222" stroke-width="0.9" fill="none"/>
<text x="192.16" y="495.79" class="sl">b</text>
<path d="M197.44 494.28V496.28" stroke="#3a3a3a" stroke-width="0.75" fill="none"/><path d="M196.04 494.28h2.8" stroke="#222" stroke-width="0.9" fill="none"/>
<text x="197.44" y="492.98" class="sl">b</text>
<path d="M202.72 497.69V499.70" stroke="#3a3a3a" stroke-width="0.75" fill="none"/><path d="M201.32 497.69h2.8" stroke="#222" stroke-width="0.9" fill="none"/>
<text x="202.72" y="496.39" class="sl">b</text>
<rect x="210.64" y="499.05" width="5.28" height="0.75" fill="url(#pCK)" stroke="#333" stroke-width="0.7"/>
<rect x="215.92" y="496.99" width="5.28" height="2.81" fill="url(#pCF)" stroke="#333" stroke-width="0.7"/>
<rect x="221.20" y="498.29" width="5.28" height="1.51" fill="url(#pEMI)" stroke="#333" stroke-width="0.7"/>
<rect x="226.48" y="498.04" width="5.28" height="1.76" fill="url(#pEMII)" stroke="#333" stroke-width="0.7"/>
<path d="M213.28 497.69V499.80" stroke="#3a3a3a" stroke-width="0.75" fill="none"/><path d="M211.88 497.69h2.8" stroke="#222" stroke-width="0.9" fill="none"/>
<text x="213.28" y="496.39" class="sl">a</text>
<path d="M218.56 496.08V497.89" stroke="#3a3a3a" stroke-width="0.75" fill="none"/><path d="M217.16 496.08h2.8" stroke="#222" stroke-width="0.9" fill="none"/>
<text x="218.56" y="494.78" class="sl">a</text>
<path d="M223.84 497.69V498.90" stroke="#3a3a3a" stroke-width="0.75" fill="none"/><path d="M222.44 497.69h2.8" stroke="#222" stroke-width="0.9" fill="none"/>
<text x="223.84" y="496.39" class="sl">a</text>
<path d="M229.12 497.54V498.54" stroke="#3a3a3a" stroke-width="0.75" fill="none"/><path d="M227.72 497.54h2.8" stroke="#222" stroke-width="0.9" fill="none"/>
<text x="229.12" y="496.24" class="sl">a</text>
<rect x="237.04" y="497.54" width="5.28" height="2.26" fill="url(#pCK)" stroke="#333" stroke-width="0.7"/>
<rect x="242.32" y="495.08" width="5.28" height="4.72" fill="url(#pCF)" stroke="#333" stroke-width="0.7"/>
<rect x="247.60" y="497.79" width="5.28" height="2.01" fill="url(#pEMI)" stroke="#333" stroke-width="0.7"/>
<rect x="252.88" y="497.39" width="5.28" height="2.41" fill="url(#pEMII)" stroke="#333" stroke-width="0.7"/>
<path d="M239.68 496.08V499.00" stroke="#3a3a3a" stroke-width="0.75" fill="none"/><path d="M238.28 496.08h2.8" stroke="#222" stroke-width="0.9" fill="none"/>
<text x="239.68" y="494.78" class="sl">a</text>
<path d="M244.96 493.87V496.28" stroke="#3a3a3a" stroke-width="0.75" fill="none"/><path d="M243.56 493.87h2.8" stroke="#222" stroke-width="0.9" fill="none"/>
<text x="244.96" y="492.57" class="sl">a</text>
<path d="M250.24 496.08V499.50" stroke="#3a3a3a" stroke-width="0.75" fill="none"/><path d="M248.84 496.08h2.8" stroke="#222" stroke-width="0.9" fill="none"/>
<text x="250.24" y="494.78" class="sl">a</text>
<path d="M255.52 496.08V498.70" stroke="#3a3a3a" stroke-width="0.75" fill="none"/><path d="M254.12 496.08h2.8" stroke="#222" stroke-width="0.9" fill="none"/>
<text x="255.52" y="494.78" class="sl">a</text>
<rect x="263.44" y="497.29" width="5.28" height="2.51" fill="url(#pCK)" stroke="#333" stroke-width="0.7"/>
<rect x="268.72" y="496.54" width="5.28" height="3.26" fill="url(#pCF)" stroke="#333" stroke-width="0.7"/>
<rect x="274.00" y="497.29" width="5.28" height="2.51" fill="url(#pEMI)" stroke="#333" stroke-width="0.7"/>
<rect x="279.28" y="497.29" width="5.28" height="2.51" fill="url(#pEMII)" stroke="#333" stroke-width="0.7"/>
<path d="M266.08 496.38V498.19" stroke="#3a3a3a" stroke-width="0.75" fill="none"/><path d="M264.68 496.38h2.8" stroke="#222" stroke-width="0.9" fill="none"/>
<text x="266.08" y="495.08" class="sl">a</text>
<path d="M271.36 495.48V497.59" stroke="#3a3a3a" stroke-width="0.75" fill="none"/><path d="M269.96 495.48h2.8" stroke="#222" stroke-width="0.9" fill="none"/>
<text x="271.36" y="494.18" class="sl">a</text>
<path d="M276.64 496.49V498.09" stroke="#3a3a3a" stroke-width="0.75" fill="none"/><path d="M275.24 496.49h2.8" stroke="#222" stroke-width="0.9" fill="none"/>
<text x="276.64" y="495.19" class="sl">a</text>
<path d="M281.92 496.49V498.09" stroke="#3a3a3a" stroke-width="0.75" fill="none"/><path d="M280.52 496.49h2.8" stroke="#222" stroke-width="0.9" fill="none"/>
<text x="281.92" y="495.19" class="sl">a</text>
<rect x="289.84" y="498.29" width="5.28" height="1.51" fill="url(#pCK)" stroke="#333" stroke-width="0.7"/>
<rect x="295.12" y="497.54" width="5.28" height="2.26" fill="url(#pCF)" stroke="#333" stroke-width="0.7"/>
<rect x="300.40" y="496.54" width="5.28" height="3.26" fill="url(#pEMI)" stroke="#333" stroke-width="0.7"/>
<rect x="305.68" y="495.03" width="5.28" height="4.77" fill="url(#pEMII)" stroke="#333" stroke-width="0.7"/>
<path d="M292.48 496.99V499.60" stroke="#3a3a3a" stroke-width="0.75" fill="none"/><path d="M291.08 496.99h2.8" stroke="#222" stroke-width="0.9" fill="none"/>
<text x="292.48" y="495.69" class="sl">a</text>
<path d="M297.76 495.98V499.10" stroke="#3a3a3a" stroke-width="0.75" fill="none"/><path d="M296.36 495.98h2.8" stroke="#222" stroke-width="0.9" fill="none"/>
<text x="297.76" y="494.68" class="sl">a</text>
<path d="M303.04 494.98V498.09" stroke="#3a3a3a" stroke-width="0.75" fill="none"/><path d="M301.64 494.98h2.8" stroke="#222" stroke-width="0.9" fill="none"/>
<text x="303.04" y="493.68" class="sl">a</text>
<path d="M308.32 492.97V497.09" stroke="#3a3a3a" stroke-width="0.75" fill="none"/><path d="M306.92 492.97h2.8" stroke="#222" stroke-width="0.9" fill="none"/>
<text x="308.32" y="491.67" class="sl">a</text>
<rect x="316.24" y="496.54" width="5.28" height="3.26" fill="url(#pCK)" stroke="#333" stroke-width="0.7"/>
<rect x="321.52" y="497.99" width="5.28" height="1.81" fill="url(#pCF)" stroke="#333" stroke-width="0.7"/>
<rect x="326.80" y="497.99" width="5.28" height="1.81" fill="url(#pEMI)" stroke="#333" stroke-width="0.7"/>
<rect x="332.08" y="496.54" width="5.28" height="3.26" fill="url(#pEMII)" stroke="#333" stroke-width="0.7"/>
<path d="M318.88 495.98V497.09" stroke="#3a3a3a" stroke-width="0.75" fill="none"/><path d="M317.48 495.98h2.8" stroke="#222" stroke-width="0.9" fill="none"/>
<text x="318.88" y="494.68" class="sl">a</text>
<path d="M324.16 496.99V499.00" stroke="#3a3a3a" stroke-width="0.75" fill="none"/><path d="M322.76 496.99h2.8" stroke="#222" stroke-width="0.9" fill="none"/>
<text x="324.16" y="495.69" class="sl">a</text>
<path d="M329.44 496.99V499.00" stroke="#3a3a3a" stroke-width="0.75" fill="none"/><path d="M328.04 496.99h2.8" stroke="#222" stroke-width="0.9" fill="none"/>
<text x="329.44" y="495.69" class="sl">a</text>
<path d="M334.72 493.47V499.60" stroke="#3a3a3a" stroke-width="0.75" fill="none"/><path d="M333.32 493.47h2.8" stroke="#222" stroke-width="0.9" fill="none"/>
<text x="334.72" y="492.17" class="sl">a</text>
<rect x="342.64" y="494.78" width="5.28" height="5.02" fill="url(#pCK)" stroke="#333" stroke-width="0.7"/>
<rect x="347.92" y="499.30" width="5.28" height="0.50" fill="url(#pCF)" stroke="#333" stroke-width="0.7"/>
<rect x="353.20" y="499.55" width="5.28" height="0.25" fill="url(#pEMI)" stroke="#333" stroke-width="0.7"/>
<rect x="358.48" y="496.28" width="5.28" height="3.52" fill="url(#pEMII)" stroke="#333" stroke-width="0.7"/>
<path d="M345.28 493.47V496.08" stroke="#3a3a3a" stroke-width="0.75" fill="none"/><path d="M343.88 493.47h2.8" stroke="#222" stroke-width="0.9" fill="none"/>
<text x="345.28" y="492.17" class="sl">a</text>
<path d="M350.56 499.10V499.50" stroke="#3a3a3a" stroke-width="0.75" fill="none"/><path d="M349.16 499.10h2.8" stroke="#222" stroke-width="0.9" fill="none"/>
<text x="350.56" y="497.80" class="sl">b</text>
<path d="M355.84 499.10V499.80" stroke="#3a3a3a" stroke-width="0.75" fill="none"/><path d="M354.44 499.10h2.8" stroke="#222" stroke-width="0.9" fill="none"/>
<text x="355.84" y="497.80" class="sl">b</text>
<path d="M361.12 496.18V496.38" stroke="#3a3a3a" stroke-width="0.75" fill="none"/><path d="M359.72 496.18h2.8" stroke="#222" stroke-width="0.9" fill="none"/>
<text x="361.12" y="494.88" class="sl">b</text>
<rect x="369.04" y="499.05" width="5.28" height="0.75" fill="url(#pCK)" stroke="#333" stroke-width="0.7"/>
<rect x="374.32" y="497.79" width="5.28" height="2.01" fill="url(#pCF)" stroke="#333" stroke-width="0.7"/>
<rect x="379.60" y="499.30" width="5.28" height="0.50" fill="url(#pEMI)" stroke="#333" stroke-width="0.7"/>
<rect x="384.88" y="498.04" width="5.28" height="1.76" fill="url(#pEMII)" stroke="#333" stroke-width="0.7"/>
<path d="M371.68 496.99V499.80" stroke="#3a3a3a" stroke-width="0.75" fill="none"/><path d="M370.28 496.99h2.8" stroke="#222" stroke-width="0.9" fill="none"/>
<text x="371.68" y="495.69" class="sl">a</text>
<path d="M376.96 496.99V498.59" stroke="#3a3a3a" stroke-width="0.75" fill="none"/><path d="M375.56 496.99h2.8" stroke="#222" stroke-width="0.9" fill="none"/>
<text x="376.96" y="495.69" class="sl">a</text>
<path d="M382.24 496.99V499.80" stroke="#3a3a3a" stroke-width="0.75" fill="none"/><path d="M380.84 496.99h2.8" stroke="#222" stroke-width="0.9" fill="none"/>
<text x="382.24" y="495.69" class="sl">a</text>
<path d="M387.52 496.99V499.10" stroke="#3a3a3a" stroke-width="0.75" fill="none"/><path d="M386.12 496.99h2.8" stroke="#222" stroke-width="0.9" fill="none"/>
<text x="387.52" y="495.69" class="sl">a</text>
<rect x="395.44" y="497.79" width="5.28" height="2.01" fill="url(#pCK)" stroke="#333" stroke-width="0.7"/>
<rect x="400.72" y="498.29" width="5.28" height="1.51" fill="url(#pCF)" stroke="#333" stroke-width="0.7"/>
<rect x="406.00" y="498.29" width="5.28" height="1.51" fill="url(#pEMI)" stroke="#333" stroke-width="0.7"/>
<rect x="411.28" y="497.79" width="5.28" height="2.01" fill="url(#pEMII)" stroke="#333" stroke-width="0.7"/>
<path d="M398.08 495.98V499.60" stroke="#3a3a3a" stroke-width="0.75" fill="none"/><path d="M396.68 495.98h2.8" stroke="#222" stroke-width="0.9" fill="none"/>
<text x="398.08" y="494.68" class="sl">a</text>
<path d="M403.36 495.98V499.80" stroke="#3a3a3a" stroke-width="0.75" fill="none"/><path d="M401.96 495.98h2.8" stroke="#222" stroke-width="0.9" fill="none"/>
<text x="403.36" y="494.68" class="sl">a</text>
<path d="M408.64 495.98V499.80" stroke="#3a3a3a" stroke-width="0.75" fill="none"/><path d="M407.24 495.98h2.8" stroke="#222" stroke-width="0.9" fill="none"/>
<text x="408.64" y="494.68" class="sl">a</text>
<path d="M413.92 495.98V499.60" stroke="#3a3a3a" stroke-width="0.75" fill="none"/><path d="M412.52 495.98h2.8" stroke="#222" stroke-width="0.9" fill="none"/>
<text x="413.92" y="494.68" class="sl">a</text>
<path d="M49.60 298.90H419.20V499.80H49.60Z" fill="none" stroke="#222" stroke-width="1.3"/>
<path d="M45.00 499.80H49.6" stroke="#222" stroke-width="1.1"/>
<text x="42.00" y="501.80" class="yt">0</text>
<path d="M45.00 474.69H49.6" stroke="#222" stroke-width="1.1"/>
<text x="42.00" y="476.69" class="yt">5</text>
<path d="M45.00 449.57H49.6" stroke="#222" stroke-width="1.1"/>
<text x="42.00" y="451.57" class="yt">10</text>
<path d="M45.00 424.46H49.6" stroke="#222" stroke-width="1.1"/>
<text x="42.00" y="426.46" class="yt">15</text>
<path d="M45.00 399.35H49.6" stroke="#222" stroke-width="1.1"/>
<text x="42.00" y="401.35" class="yt">20</text>
<path d="M45.00 374.24H49.6" stroke="#222" stroke-width="1.1"/>
<text x="42.00" y="376.24" class="yt">25</text>
<path d="M45.00 349.12H49.6" stroke="#222" stroke-width="1.1"/>
<text x="42.00" y="351.12" class="yt">30</text>
<path d="M45.00 324.01H49.6" stroke="#222" stroke-width="1.1"/>
<text x="42.00" y="326.01" class="yt">35</text>
<path d="M45.00 298.90H49.6" stroke="#222" stroke-width="1.1"/>
<text x="42.00" y="300.90" class="yt">40</text>
<path d="M47.00 487.24H49.6" stroke="#222" stroke-width="1.1"/>
<path d="M47.00 462.13H49.6" stroke="#222" stroke-width="1.1"/>
<path d="M47.00 437.02H49.6" stroke="#222" stroke-width="1.1"/>
<path d="M47.00 411.91H49.6" stroke="#222" stroke-width="1.1"/>
<path d="M47.00 386.79H49.6" stroke="#222" stroke-width="1.1"/>
<path d="M47.00 361.68H49.6" stroke="#222" stroke-width="1.1"/>
<path d="M47.00 336.57H49.6" stroke="#222" stroke-width="1.1"/>
<path d="M47.00 311.46H49.6" stroke="#222" stroke-width="1.1"/>
<path d="M49.60 499.80V502.40" stroke="#222" stroke-width="1"/>
<path d="M76.00 499.80V502.40" stroke="#222" stroke-width="1"/>
<path d="M102.40 499.80V502.40" stroke="#222" stroke-width="1"/>
<path d="M128.80 499.80V502.40" stroke="#222" stroke-width="1"/>
<path d="M155.20 499.80V502.40" stroke="#222" stroke-width="1"/>
<path d="M181.60 499.80V502.40" stroke="#222" stroke-width="1"/>
<path d="M208.00 499.80V502.40" stroke="#222" stroke-width="1"/>
<path d="M234.40 499.80V502.40" stroke="#222" stroke-width="1"/>
<path d="M260.80 499.80V502.40" stroke="#222" stroke-width="1"/>
<path d="M287.20 499.80V502.40" stroke="#222" stroke-width="1"/>
<path d="M313.60 499.80V502.40" stroke="#222" stroke-width="1"/>
<path d="M340.00 499.80V502.40" stroke="#222" stroke-width="1"/>
<path d="M366.40 499.80V502.40" stroke="#222" stroke-width="1"/>
<path d="M392.80 499.80V502.40" stroke="#222" stroke-width="1"/>
<path d="M419.20 499.80V502.40" stroke="#222" stroke-width="1"/>
<text transform="translate(68.80 506.10) rotate(-45)" class="xl">Mortierella</text>
<text transform="translate(95.20 506.10) rotate(-45)" class="xl">Metarhizium</text>
<text transform="translate(121.60 506.10) rotate(-45)" class="xl">Chrysosporium</text>
<text transform="translate(148.00 506.10) rotate(-45)" class="xl">Stachybotrys</text>
<text transform="translate(174.40 506.10) rotate(-45)" class="xl">Archaeorhizomyces</text>
<text transform="translate(200.80 506.10) rotate(-45)" class="xl">Fusicolla</text>
<text transform="translate(227.20 506.10) rotate(-45)" class="xl">Podospora</text>
<text transform="translate(253.60 506.10) rotate(-45)" class="xl">Chaetomium</text>
<text transform="translate(280.00 506.10) rotate(-45)" class="xl">Acremonium</text>
<text transform="translate(306.40 506.10) rotate(-45)" class="xl">Gibberella</text>
<text transform="translate(332.80 506.10) rotate(-45)" class="xl">Aspergillus</text>
<text transform="translate(359.20 506.10) rotate(-45)" class="xl">Xeromyces</text>
<text transform="translate(385.60 506.10) rotate(-45)" class="xl">Trichoderma</text>
<text transform="translate(412.00 506.10) rotate(-45)" class="xl">Phellinus</text>
<rect x="135.40" y="18.20" width="10.4" height="6.2" fill="url(#pCK)" stroke="#333" stroke-width="0.6"/>
<text x="151.00" y="24.20" class="lg">CK</text>
<rect x="164.40" y="18.20" width="10.4" height="6.2" fill="url(#pCF)" stroke="#333" stroke-width="0.6"/>
<text x="180.20" y="24.20" class="lg">CF</text>
<rect x="193.40" y="18.20" width="10.4" height="6.2" fill="url(#pEMI)" stroke="#333" stroke-width="0.6"/>
<text x="209.30" y="24.20" class="lg">EMI</text>
<rect x="225.40" y="18.20" width="10.4" height="6.2" fill="url(#pEMII)" stroke="#333" stroke-width="0.6"/>
<text x="241.30" y="24.20" class="lg">EMII</text>
<rect x="136.00" y="304.40" width="10.4" height="6.2" fill="url(#pCK)" stroke="#333" stroke-width="0.6"/>
<text x="151.60" y="310.40" class="lg">CK</text>
<rect x="165.00" y="304.40" width="10.4" height="6.2" fill="url(#pCF)" stroke="#333" stroke-width="0.6"/>
<text x="180.80" y="310.40" class="lg">CF</text>
<rect x="194.00" y="304.40" width="10.4" height="6.2" fill="url(#pEMI)" stroke="#333" stroke-width="0.6"/>
<text x="209.90" y="310.40" class="lg">EMI</text>
<rect x="226.00" y="304.40" width="10.4" height="6.2" fill="url(#pEMII)" stroke="#333" stroke-width="0.6"/>
<text x="241.90" y="310.40" class="lg">EMII</text>
<clipPath id="cA"><rect x="269.59999999999997" y="13.8" width="45.30" height="152.40"/></clipPath>
<rect x="269.2" y="13.8" width="146.80" height="152.40" fill="#fff" stroke="#555" stroke-width="0.8"/>
<path d="M269.2 22.2H416.0" stroke="#555" stroke-width="0.8"/>
<path d="M315.3 13.8V166.2" stroke="#555" stroke-width="0.8"/>
<text x="292.25" y="20.60" class="tc">Phylum</text>
<text x="365.65" y="20.60" class="tc">Genus</text>
<path d="M315.3 30.1H416.0" stroke="#555" stroke-width="0.8"/>
<text x="316.20" y="28.90" class="tg">RB41</text>
<path d="M315.3 37.9H416.0" stroke="#555" stroke-width="0.8"/>
<text x="316.20" y="36.70" class="tg">Acidobacteria_bacterium_WX2</text>
<path d="M315.3 45.0H416.0" stroke="#555" stroke-width="0.8"/>
<text x="316.20" y="43.80" class="tg">DS-100</text>
<path d="M315.3 53.3H416.0" stroke="#555" stroke-width="0.8"/>
<text x="316.20" y="52.10" class="tg">Sphingomonas</text>
<path d="M315.3 60.6H416.0" stroke="#555" stroke-width="0.8"/>
<text x="316.20" y="59.40" class="tg">H16</text>
<path d="M315.3 67.8H416.0" stroke="#555" stroke-width="0.8"/>
<text x="316.20" y="66.60" class="tg">Skermanella</text>
<path d="M315.3 76.4H416.0" stroke="#555" stroke-width="0.8"/>
<text x="316.20" y="74.40" class="tg">Lysobacter</text>
<path d="M315.3 84.7H416.0" stroke="#555" stroke-width="0.8"/>
<text x="316.20" y="83.50" class="tg">Steroidobacter</text>
<path d="M315.3 91.7H416.0" stroke="#555" stroke-width="0.8"/>
<text x="316.20" y="90.50" class="tg">Acidibacter</text>
<path d="M315.3 100.6H416.0" stroke="#555" stroke-width="0.8"/>
<text x="316.20" y="98.60" class="tg">Haliangium</text>
<path d="M315.3 107.9H416.0" stroke="#555" stroke-width="0.8"/>
<text x="316.20" y="106.70" class="tg">Gaiella</text>
<path d="M315.3 115.5H416.0" stroke="#555" stroke-width="0.8"/>
<text x="316.20" y="114.30" class="tg">Nocardioides</text>
<path d="M315.3 123.3H416.0" stroke="#555" stroke-width="0.8"/>
<text x="316.20" y="122.10" class="tg">Pseudarthrobacter</text>
<path d="M315.3 130.8H416.0" stroke="#555" stroke-width="0.8"/>
<text x="316.20" y="129.60" class="tg">Streptomyces</text>
<path d="M315.3 138.9H416.0" stroke="#555" stroke-width="0.8"/>
<text x="316.20" y="137.70" class="tg">AKYG587</text>
<path d="M315.3 148.4H416.0" stroke="#555" stroke-width="0.8"/>
<text x="316.20" y="146.40" class="tg">Nitrospira</text>
<path d="M315.3 157.3H416.0" stroke="#555" stroke-width="0.8"/>
<text x="316.20" y="155.30" class="tg">Bacillus</text>
<path d="M315.3 166.2H416.0" stroke="#555" stroke-width="0.8"/>
<text x="316.20" y="164.20" class="tg">Candidatus_Entotheonella</text>
<path d="M269.2 45.0H315.3" stroke="#555" stroke-width="0.8"/>
<text x="292.25" y="36.00" class="tc" clip-path="url(#cA)">Acidobacteria</text>
<path d="M269.2 100.6H315.3" stroke="#555" stroke-width="0.8"/>
<text x="292.25" y="71.00" class="tc" clip-path="url(#cA)">Proteobacteri</text>
<text x="292.25" y="79.20" class="tc" clip-path="url(#cA)">a</text>
<path d="M269.2 130.8H315.3" stroke="#555" stroke-width="0.8"/>
<text x="292.25" y="113.80" class="tc" clip-path="url(#cA)">Actinobacteri</text>
<text x="292.25" y="122.00" class="tc" clip-path="url(#cA)">a</text>
<path d="M269.2 138.9H315.3" stroke="#555" stroke-width="0.8"/>
<text x="292.25" y="137.30" class="tc" clip-path="url(#cA)">Planctomycet</text>
<path d="M269.2 148.4H315.3" stroke="#555" stroke-width="0.8"/>
<text x="292.25" y="146.30" class="tc" clip-path="url(#cA)">Nitrospirae</text>
<path d="M269.2 157.3H315.3" stroke="#555" stroke-width="0.8"/>
<text x="292.25" y="155.00" class="tc" clip-path="url(#cA)">Firmicutes</text>
<path d="M269.2 166.2H315.3" stroke="#555" stroke-width="0.8"/>
<text x="292.25" y="164.30" class="tc" clip-path="url(#cA)">Tectomicrobia</text>
<clipPath id="cB"><rect x="282.7" y="300.4" width="44.40" height="118.50"/></clipPath>
<rect x="282.3" y="300.4" width="135.10" height="118.50" fill="#fff" stroke="#555" stroke-width="0.8"/>
<path d="M282.3 308.5H417.4" stroke="#555" stroke-width="0.8"/>
<path d="M327.5 300.4V418.9" stroke="#555" stroke-width="0.8"/>
<text x="304.90" y="306.90" class="tc">Phylum</text>
<text x="372.45" y="306.90" class="tc">Genus</text>
<path d="M327.5 317.0H417.4" stroke="#555" stroke-width="0.8"/>
<text x="328.40" y="315.40" class="tg">Mortierella</text>
<path d="M327.5 325.3H417.4" stroke="#555" stroke-width="0.8"/>
<text x="328.40" y="323.70" class="tg">Metarhizium</text>
<path d="M327.5 333.3H417.4" stroke="#555" stroke-width="0.8"/>
<text x="328.40" y="331.70" class="tg">Chrysosporium</text>
<path d="M327.5 340.6H417.4" stroke="#555" stroke-width="0.8"/>
<text x="328.40" y="339.00" class="tg">Stachybotrys</text>
<path d="M327.5 348.9H417.4" stroke="#555" stroke-width="0.8"/>
<text x="328.40" y="347.30" class="tg">Archaeorhizomyces</text>
<path d="M327.5 356.5H417.4" stroke="#555" stroke-width="0.8"/>
<text x="328.40" y="354.90" class="tg">Fusicolla</text>
<path d="M327.5 363.8H417.4" stroke="#555" stroke-width="0.8"/>
<text x="328.40" y="362.20" class="tg">Podospora</text>
<path d="M327.5 370.8H417.4" stroke="#555" stroke-width="0.8"/>
<text x="328.40" y="369.20" class="tg">Chaetomium</text>
<path d="M327.5 378.5H417.4" stroke="#555" stroke-width="0.8"/>
<text x="328.40" y="376.90" class="tg">Acremonium</text>
<path d="M327.5 386.1H417.4" stroke="#555" stroke-width="0.8"/>
<text x="328.40" y="384.50" class="tg">Gibberella</text>
<path d="M327.5 394.1H417.4" stroke="#555" stroke-width="0.8"/>
<text x="328.40" y="392.50" class="tg">Aspergillus</text>
<path d="M327.5 402.3H417.4" stroke="#555" stroke-width="0.8"/>
<text x="328.40" y="400.70" class="tg">Xeromyces</text>
<path d="M327.5 410.3H417.4" stroke="#555" stroke-width="0.8"/>
<text x="328.40" y="408.70" class="tg">Trichoderma</text>
<path d="M327.5 418.9H417.4" stroke="#555" stroke-width="0.8"/>
<text x="328.40" y="417.30" class="tg">Phellinus</text>
<path d="M282.3 317.0H327.5" stroke="#555" stroke-width="0.8"/>
<text x="304.90" y="315.40" class="tc" clip-path="url(#cB)">Mortierellomyc</text>
<path d="M282.3 410.3H327.5" stroke="#555" stroke-width="0.8"/>
<text x="304.90" y="366.00" class="tc" clip-path="url(#cB)">Ascomycota</text>
<path d="M282.3 418.9H327.5" stroke="#555" stroke-width="0.8"/>
<text x="304.90" y="416.80" class="tc" clip-path="url(#cB)">Basidiomycota</text>
</svg>
</body></html>
